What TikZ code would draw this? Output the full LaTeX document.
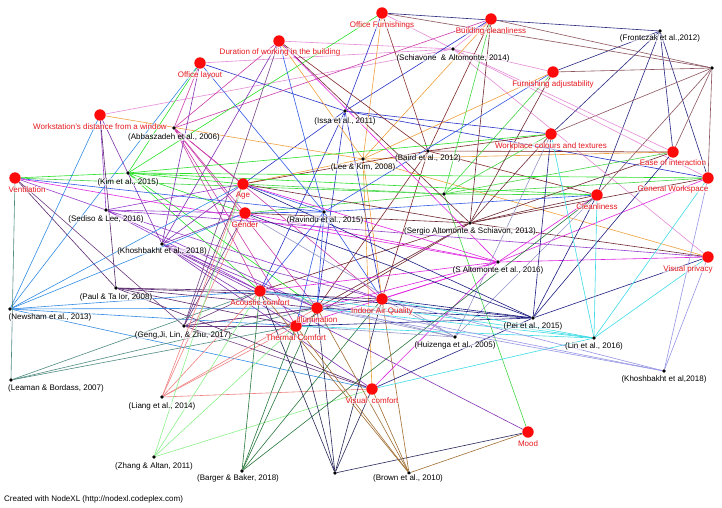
\documentclass[tikz,border=0pt]{standalone}
\usepackage{fontspec}
\setmainfont{Liberation Sans}
\usetikzlibrary{backgrounds}
\definecolor{nodered}{RGB}{255,10,10}
\definecolor{labred}{RGB}{230,25,30}
\definecolor{cFR}{RGB}{40,40,130}
\definecolor{cUa}{RGB}{140,85,95}
\definecolor{cSAa}{RGB}{230,140,215}
\definecolor{cIS}{RGB}{40,50,200}
\definecolor{cAB}{RGB}{205,60,170}
\definecolor{cLK}{RGB}{240,160,60}
\definecolor{cBA}{RGB}{130,40,40}
\definecolor{cUb}{RGB}{70,215,70}
\definecolor{cSAS}{RGB}{110,40,50}
\definecolor{cKI}{RGB}{40,225,40}
\definecolor{cSL}{RGB}{150,60,205}
\definecolor{cKH}{RGB}{130,50,180}
\definecolor{cRA}{RGB}{50,90,230}
\definecolor{cSAb}{RGB}{225,35,225}
\definecolor{cPT}{RGB}{90,40,110}
\definecolor{cNE}{RGB}{50,140,230}
\definecolor{cGJ}{RGB}{110,60,130}
\definecolor{cLB}{RGB}{80,140,130}
\definecolor{cLI}{RGB}{240,130,130}
\definecolor{cZA}{RGB}{140,240,140}
\definecolor{cBB}{RGB}{40,120,60}
\definecolor{cUc}{RGB}{40,40,90}
\definecolor{cBR}{RGB}{160,110,50}
\definecolor{cHU}{RGB}{150,150,200}
\definecolor{cPE}{RGB}{30,30,130}
\definecolor{cLN}{RGB}{60,220,230}
\definecolor{cKB}{RGB}{150,150,230}
\newcommand\linksfrom[3]{\foreach \t in {#3}{\draw[edge,#2] (#1) -- (\t);}}
\begin{document}
\begin{tikzpicture}[x=1pt,y=-1pt,
  factor/.style={circle,fill=nodered,draw=none,minimum size=11.4pt,inner sep=0pt},
  paper/.style={circle,fill=black,draw=none,minimum size=3.6pt,inner sep=0pt},
  flab/.style={text=labred,font=\fontsize{8}{9}\selectfont,inner sep=0.4pt,fill=white,fill opacity=0.55,text opacity=1},
  plab/.style={text=black,font=\fontsize{8}{9}\selectfont,inner sep=0.4pt,fill=white,fill opacity=0.55,text opacity=1},
  edge/.style={line width=0.6pt}]
\useasboundingbox (0,0) rectangle (722,508);
% factor nodes
\node[factor] (OF) at (382,13) {};
\node[factor] (BC) at (491,19) {};
\node[factor] (DW) at (279,41) {};
\node[factor] (OL) at (200,63) {};
\node[factor] (WW) at (100,115) {};
\node[factor] (FA) at (553,72) {};
\node[factor] (WC) at (551,134) {};
\node[factor] (EI) at (673,152) {};
\node[factor] (GW) at (708,178) {};
\node[factor] (CL) at (597,195) {};
\node[factor] (VE) at (15,178) {};
\node[factor] (AG) at (243,184) {};
\node[factor] (GE) at (245,213) {};
\node[factor] (AC) at (260,291) {};
\node[factor] (IL) at (317,308) {};
\node[factor] (TC) at (296,326) {};
\node[factor] (IAQ) at (382,299) {};
\node[factor] (VC) at (372,389) {};
\node[factor] (MO) at (528,432) {};
\node[factor] (VP) at (708,257) {};
% paper nodes
\node[paper] (FR) at (660,31) {};
\node[paper] (Ua) at (712,68) {};
\node[paper] (SAa) at (453,49) {};
\node[paper] (IS) at (345,111) {};
\node[paper] (AB) at (174,128) {};
\node[paper] (LK) at (363,159) {};
\node[paper] (BA) at (428,151) {};
\node[paper] (Ub) at (444,194) {};
\node[paper] (SAS) at (470,223) {};
\node[paper] (KI) at (128,173) {};
\node[paper] (SL) at (106,210) {};
\node[paper] (KH) at (162,244) {};
\node[paper] (RA) at (324,212) {};
\node[paper] (SAb) at (498,262) {};
\node[paper] (PT) at (116,288) {};
\node[paper] (NE) at (10,309) {};
\node[paper] (GJ) at (184,326) {};
\node[paper] (LB) at (11,380) {};
\node[paper] (LI) at (162,397) {};
\node[paper] (ZA) at (154,457) {};
\node[paper] (BB) at (242,471) {};
\node[paper] (Uc) at (335,473) {};
\node[paper] (BR) at (409,473) {};
\node[paper] (HU) at (455,337) {};
\node[paper] (PE) at (533,318) {};
\node[paper] (LN) at (594,338) {};
\node[paper] (KB) at (664,371) {};
\begin{scope}[on background layer]
\fill[white] (0,0) rectangle (722,508);
\linksfrom{FR}{cFR}{OF,FA,WC,EI,GW,CL}
\linksfrom{Ua}{cUa}{OF,BC,FA,WC,EI,GW,CL}
\linksfrom{SAa}{cSAa}{OF,BC,DW,OL,WW,FA,EI,GW,VP}
\linksfrom{IS}{cIS}{OF,BC,OL,WC,GW,AG,AC,IL,IAQ}
\linksfrom{AB}{cAB}{BC,OL,DW,AG,GE,AC,IL,TC,IAQ}
\linksfrom{LK}{cLK}{OF,BC,DW,WW,FA,EI,AG,IAQ,VC,VP}
\linksfrom{BA}{cBA}{OF,BC,DW,WC,EI,CL,AG,IL,IAQ}
\linksfrom{Ub}{cUb}{BC,FA,WC,EI,GW,CL,VE,AG,GE,MO}
\linksfrom{SAS}{cSAS}{BC,FA,WC,EI,GW,CL,VP,DW,AG,GE,AC,IL,TC}
\linksfrom{KI}{cKI}{VE,OL,OF,AG,GE,WC,GW,CL,AC,IL}
\linksfrom{SL}{cSL}{WW,VE,AG,GE,AC,IL,IAQ,VP}
\linksfrom{KH}{cKH}{WW,DW,OL,AG,GE,AC,IL,TC,IAQ,VC,MO}
\linksfrom{RA}{cRA}{DW,OL,FA,AG,GE,VE,AC,IL,IAQ,TC,CL}
\linksfrom{SAb}{cSAb}{DW,AG,GE,AC,IL,TC,IAQ,VC,CL,GW,VP,VE}
\linksfrom{PT}{cPT}{VE,WW,AC,IL,TC,IAQ,VC}
\linksfrom{NE}{cNE}{WW,OL,AG,GE,AC,IL,TC,VC}
\linksfrom{GJ}{cGJ}{VE,DW,AG,GE,AC,IL,TC,IAQ,VC}
\linksfrom{LB}{cLB}{VE,AC,IL,TC}
\linksfrom{LI}{cLI}{AG,GE,AC,IL,TC,VC}
\linksfrom{ZA}{cZA}{AG,AC,TC,VC}
\linksfrom{BB}{cBB}{AC,IL,TC,IAQ,CL}
\linksfrom{Uc}{cUc}{AC,IL,TC,IAQ,VC,MO}
\linksfrom{BR}{cBR}{AC,IL,TC,IAQ,VC,MO}
\linksfrom{HU}{cHU}{AC,IL,TC,IAQ,WC,CL,GE}
\linksfrom{PE}{cPE}{AG,GE,AC,IL,TC,IAQ,VC,WC,CL,EI,VP}
\linksfrom{LN}{cLN}{AC,IL,TC,IAQ,VC,CL,WC,GW,VP}
\linksfrom{KB}{cKB}{VP,GW,IAQ,IL,AC}
\end{scope}
% factor labels
\node[flab] (OF-l) at (382,25) {Office Furnishings};
\node[flab] (BC-l) at (491,31) {Building cleanliness};
\node[flab] (DW-l) at (280,52) {Duration of working in the building};
\node[flab] (OL-l) at (200,75) {Office layout};
\node[flab] (WW-l) at (100,127) {Workstation's distance from a window};
\node[flab] (FA-l) at (553,84) {Furnishing adjustability};
\node[flab] (WC-l) at (551,146) {Workplace colours and textures};
\node[flab] (EI-l) at (673,163) {Ease of interaction};
\node[flab] (GW-l) at (673,189) {General Workspace};
\node[flab] (CL-l) at (597,207) {Cleanliness};
\node[flab] (VE-l) at (27,190) {Ventilation};
\node[flab] (AG-l) at (243,196) {Age};
\node[flab] (GE-l) at (245,225) {Gender};
\node[flab] (AC-l) at (260,303) {Acoustic comfort};
\node[flab] (IL-l) at (317,320) {Illumination};
\node[flab] (TC-l) at (296,338) {Thermal Comfort};
\node[flab] (IAQ-l) at (382,311) {Indoor Air Quality};
\node[flab] (VC-l) at (372,401) {Visual\ \ comfort};
\node[flab] (MO-l) at (528,444) {Mood};
\node[flab] (VP-l) at (688,269) {Visual privacy};
% paper labels
\node[plab] (FR-l) at (660,38) {(Frontczak et al.,2012)};
\node[plab] (SAa-l) at (453,58) {(Schiavone\ \ \& Altomonte, 2014)};
\node[plab] (IS-l) at (345,121) {(Issa et al., 2011)};
\node[plab] (AB-l) at (174,137) {(Abbaszadeh et al., 2006)};
\node[plab] (LK-l) at (363,167) {(Lee \& Kim, 2008)};
\node[plab] (BA-l) at (428,158) {(Baird et al., 2012)};
\node[plab] (SAS-l) at (470,231) {(Sergio Altomonte \& Schiavon, 2013)};
\node[plab] (KI-l) at (128,182) {(Kim et al., 2015)};
\node[plab] (SL-l) at (106,219) {(Sediso \& Lee, 2016)};
\node[plab] (KH-l) at (162,251) {(Khoshbakht et al., 2018)};
\node[plab] (RA-l) at (325,220) {(Ravindu et al., 2015)};
\node[plab] (SAb-l) at (498,270) {(S Altomonte et al., 2016)};
\node[plab] (PT-l) at (116,297) {(Paul \& Ta lor, 2008)};
\node[plab] (NE-l) at (50,317) {(Newsham et al., 2013)};
\node[plab] (GJ-l) at (183,335) {(Geng,Ji, Lin, \& Zhu, 2017)};
\node[plab] (LB-l) at (56,388) {(Leaman \& Bordass, 2007)};
\node[plab] (LI-l) at (162,406) {(Liang et al., 2014)};
\node[plab] (ZA-l) at (154,466) {(Zhang \& Altan, 2011)};
\node[plab] (BB-l) at (238,478) {(Barger \& Baker, 2018)};
\node[plab] (BR-l) at (408,478) {(Brown et al., 2010)};
\node[plab] (HU-l) at (455,345) {(Huizenga et al., 2005)};
\node[plab] (PE-l) at (533,326) {(Pei et al., 2015)};
\node[plab] (LN-l) at (594,346) {(Lin et al., 2016)};
\node[plab] (KB-l) at (664,379) {(Khoshbakht et al,2018)};
\node[anchor=west,font=\fontsize{8}{9}\selectfont,inner sep=0pt] (credit) at (4,499) {Created with NodeXL (http://nodexl.codeplex.com)};
\end{tikzpicture}
\end{document}
